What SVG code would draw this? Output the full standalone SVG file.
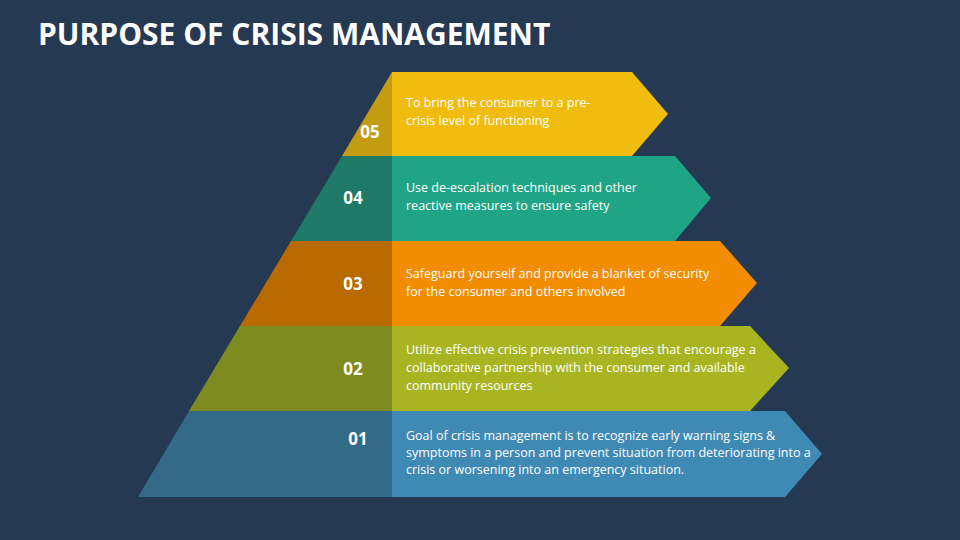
<svg xmlns="http://www.w3.org/2000/svg" width="960" height="540" viewBox="0 0 960 540">
<style>
.n{font-family:"Open Sans","Liberation Sans",sans-serif;font-weight:bold;font-size:17px;fill:#fff}
.t{font-family:"Open Sans","Liberation Sans",sans-serif;font-size:12.5px;fill:#fff}
</style>
<rect width="960" height="540" fill="#253A52"/>
<text x="38" y="45" font-family="Open Sans,Liberation Sans,sans-serif" font-weight="bold" font-size="30" fill="#fff">PURPOSE OF CRISIS MANAGEMENT</text>
<g id="layer05">
<polygon points="392,72 392,156 342,156" fill="#C49C12"/>
<polygon points="392,72 632,72 668,114 632,156 392,156" fill="#F0BC0E"/>
<text class="n" x="370" y="138" text-anchor="middle">05</text>
<text class="t" x="406" y="107">To bring the consumer to a pre-</text>
<text class="t" x="406" y="125">crisis level of functioning</text>
</g>
<g id="layer04">
<polygon points="342,156 392,156 392,241 291,241" fill="#1E7A66"/>
<polygon points="392,156 675,156 711,198 675,241 392,241" fill="#1FA586"/>
<text class="n" x="353" y="204" text-anchor="middle">04</text>
<text class="t" x="406" y="192">Use de-escalation techniques and other</text>
<text class="t" x="406" y="210">reactive measures to ensure safety</text>
</g>
<g id="layer03">
<polygon points="291,241 392,241 392,326 240,326" fill="#B86A00"/>
<polygon points="392,241 720,241 757,283 720,326 392,326" fill="#F28C00"/>
<text class="n" x="353" y="290" text-anchor="middle">03</text>
<text class="t" x="406" y="278">Safeguard yourself and provide a blanket of security</text>
<text class="t" x="406" y="296">for the consumer and others involved</text>
</g>
<g id="layer02">
<polygon points="240,326 392,326 392,411 189,411" fill="#7E8B1E"/>
<polygon points="392,326 750,326 789,368 750,411 392,411" fill="#A8B521"/>
<text class="n" x="353" y="375" text-anchor="middle">02</text>
<text class="t" x="406" y="354">Utilize effective crisis prevention strategies that encourage a</text>
<text class="t" x="406" y="372">collaborative partnership with the consumer and available</text>
<text class="t" x="406" y="390">community resources</text>
</g>
<g id="layer01">
<polygon points="189,411 392,411 392,497 138,497" fill="#336A88"/>
<polygon points="392,411 785,411 822,454 785,497 392,497" fill="#3F89B5"/>
<text class="n" x="358" y="445" text-anchor="middle">01</text>
<text class="t" x="406" y="440">Goal of crisis management is to recognize early warning signs &amp;</text>
<text class="t" x="406" y="457">symptoms in a person and prevent situation from deteriorating into a</text>
<text class="t" x="406" y="474">crisis or worsening into an emergency situation.</text>
</g>
<g id="connectors"/>
</svg>
